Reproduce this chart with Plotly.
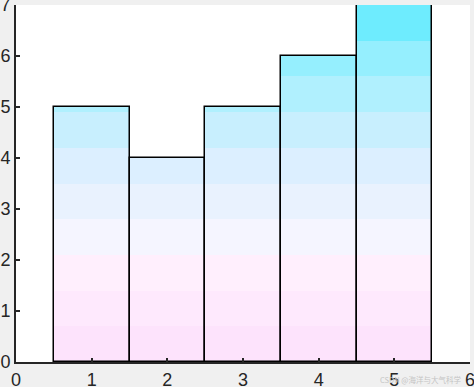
import plotly.graph_objects as go

categories = [1, 2, 3, 4, 5]
values = [5, 4, 5, 6, 7]
x_ticks = [0, 1, 2, 3, 4, 5, 6]
y_ticks = [0, 1, 2, 3, 4, 5, 6, 7]
band_colors = ["#fde3fc", "#fee9fd", "#ffeffd", "#f5f5ff", "#e9f2fe",
               "#dcefff", "#c8effe", "#b0f0fe", "#95effe", "#6eecfe"]
y_max = 7
n_bands = len(band_colors)
band_h = y_max / n_bands

fig = go.Figure()
for k, col in enumerate(band_colors):
    lo = k * band_h
    seg = [max(0.0, min(v - lo, band_h)) for v in values]
    fig.add_trace(go.Bar(x=categories, y=seg, base=[lo] * len(values), width=1,
                         marker=dict(color=col, line=dict(width=0)),
                         showlegend=False, hoverinfo="skip"))
fig.add_trace(go.Bar(x=categories, y=values, width=1, cliponaxis=False,
                     marker=dict(color="rgba(0,0,0,0)", line=dict(color="black", width=1.5)),
                     showlegend=False))

font = dict(family="Liberation Sans, Arial, sans-serif", size=18, color="#262626")
fig.update_layout(
    width=474, height=387,
    margin=dict(l=16, r=4, t=5, b=25),
    paper_bgcolor="#f0f0f0", plot_bgcolor="white",
    barmode="overlay", bargap=0,
    font=font,
    xaxis=dict(range=[0, 6], tickvals=x_ticks, ticks="inside", ticklen=4, tickwidth=2,
               tickcolor="#262626", showline=True, linecolor="#262626", linewidth=2,
               showgrid=False, zeroline=False, mirror=False, tickfont=font,
               automargin=False, ticklabeloverflow="allow"),
    yaxis=dict(range=[0, 7], tickvals=y_ticks, ticks="inside", ticklen=4, tickwidth=2,
               tickcolor="#262626", showline=True, linecolor="#262626", linewidth=2,
               showgrid=False, zeroline=False, mirror=False, tickfont=font,
               ticklabelstandoff=0, automargin=False, ticklabeloverflow="allow"),
    annotations=[dict(text="CSDN @海洋与大气科学", xref="paper", yref="paper",
                      x=0.984, y=-0.05, xanchor="right", yanchor="middle", showarrow=False,
                      font=dict(family="Noto Sans CJK SC", size=7.5, color="#c4c4c4"))],
)
fig.write_html("out.html", config={"displayModeBar": False},
               post_script="document.body.style.margin='0';document.body.style.overflow='hidden';document.body.style.background='#f0f0f0';")
